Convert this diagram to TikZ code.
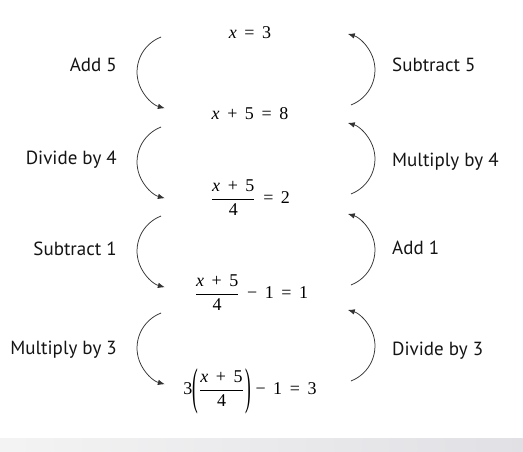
\documentclass[tikz,border=0pt]{standalone}
\usepackage{graphicx}
\usepackage{fontspec}
\setmainfont{Liberation Serif}
\newfontfamily\labelfont{PT Sans}
\usetikzlibrary{arrows.meta}
\newcommand\gp{\hspace{0.42em}}
\newcommand\eqx{\textit{x}}
\newcommand\numer{\mbox{\eqx\gp+\gp5}}
\newcommand\tallparen[1]{\raisebox{-8.6pt}{\scalebox{0.95}[2.8]{#1}}}
\begin{document}
\begin{tikzpicture}[x=1pt,y=1pt,
  lbl/.style={font=\labelfont\fontsize{19}{23}\selectfont,text=black!92,inner sep=0pt},
  eqn/.style={font=\fontsize{18}{22}\selectfont,text=black,inner sep=0pt,anchor=base},
  conn/.style={draw=black!80,line width=0.75pt,-{Latex[length=7pt,width=5.5pt]}}]
\useasboundingbox (0,0) rectangle (523,452);
\shade[left color=white!96!blue!10!gray!10, right color=blue!8!gray!22] (0,0) rectangle (523,13);
% equations
\node[eqn] (e1) at (250,413.7) {\eqx\gp=\gp3};
\node[eqn] (e2) at (250,332) {\eqx\gp+\gp5\gp=\gp8};
\node[eqn] (e3) at (250.5,248.5) {$\displaystyle\frac{\numer}{\mbox{4}}$\gp=\gp2};
\node[eqn] (e4) at (251.5,153.5) {$\displaystyle\frac{\numer}{\mbox{4}}$\gp−\gp1\gp=\gp1};
\node[eqn] (e5) at (250,57.5) {3\tallparen{(}\hspace{1pt}$\displaystyle\frac{\numer}{\mbox{4}}$\hspace{2pt}\tallparen{)}\hspace{4pt}−\gp1\gp=\gp3};
% left labels
\node[lbl,anchor=base east] (l1) at (117,380.5) {Add 5};
\node[lbl,anchor=base east] (l2) at (117,287) {Divide by 4};
\node[lbl,anchor=base east] (l3) at (117,196) {Subtract 1};
\node[lbl,anchor=base east] (l4) at (117,97) {Multiply by 3};
% right labels
\node[lbl,anchor=base west] (r1) at (392,380.5) {Subtract 5};
\node[lbl,anchor=base west] (r2) at (392,285.5) {Multiply by 4};
\node[lbl,anchor=base west] (r3) at (392,197) {Add 1};
\node[lbl,anchor=base west] (r4) at (392,96) {Divide by 3};
% arc start points
\coordinate (a1) at (161.1,415);
\coordinate (a2) at (161.1,325);
\coordinate (a3) at (161.1,236);
\coordinate (a4) at (161.1,139);
\coordinate (b1) at (350.9,347);
\coordinate (b2) at (350.9,258);
\coordinate (b3) at (350.9,167);
\coordinate (b4) at (350.9,71);
\foreach \p in {a1,a2,a3,a4}
  \draw[conn] (\p) arc[start angle=111,end angle=255,radius=37.5pt];
\foreach \p in {b1,b2,b3,b4}
  \draw[conn] (\p) arc[start angle=-69,end angle=74,radius=37.5pt];
\end{tikzpicture}
\end{document}
